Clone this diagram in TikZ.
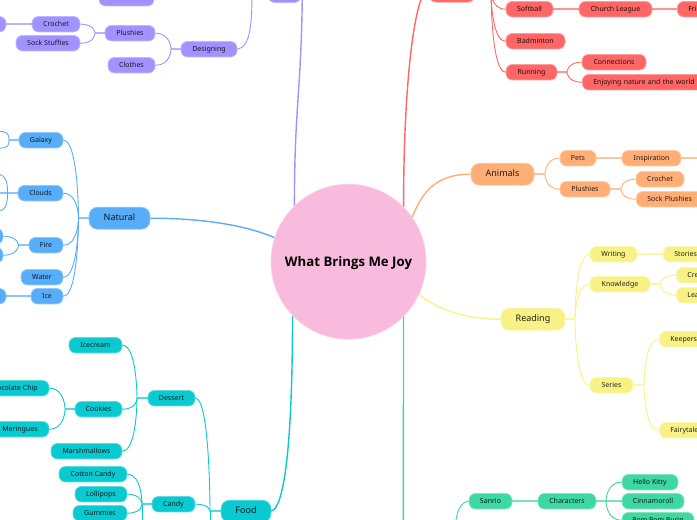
\documentclass[tikz,border=0pt]{standalone}
\usepackage{fontspec}
\setmainfont{Noto Sans}
\newfontfamily\rootfont{Open Sans}
\definecolor{cpink}{HTML}{F9BBDD}
\definecolor{cpur}{HTML}{A092FF}
\definecolor{cblu}{HTML}{58ADF8}
\definecolor{ctea}{HTML}{0BC9D0}
\definecolor{cred}{HTML}{FF6666}
\definecolor{cora}{HTML}{FFAE75}
\definecolor{cyel}{HTML}{F8F286}
\definecolor{cgre}{HTML}{3FD8A2}
\tikzset{
  pillbase/.style={rounded corners=6.5pt,inner sep=0pt,minimum height=15.5pt,line width=.7pt,font=\fontsize{7}{8}\selectfont,text height=5.2pt,text depth=1.5pt},
  bigpill/.style={rounded corners=8.5pt,minimum height=22pt,font=\fontsize{9}{10}\selectfont,text height=6.8pt,text depth=2pt},
  pur/.style={pillbase,fill=cpur,draw=cpur!65!white,text=cpur!15!black},
  blu/.style={pillbase,fill=cblu,draw=cblu!65!white,text=cblu!15!black},
  tea/.style={pillbase,fill=ctea,draw=ctea!65!white,text=ctea!15!black},
  red/.style={pillbase,fill=cred,draw=cred!65!white,text=cred!15!black},
  ora/.style={pillbase,fill=cora,draw=cora!65!white,text=cora!15!black},
  yel/.style={pillbase,fill=cyel,draw=cyel!65!white,text=cyel!15!black},
  gre/.style={pillbase,fill=cgre,draw=cgre!65!white,text=cgre!15!black},
  lnk/.style={line width=.9pt},
  stub/.style={line width=1.7pt,draw opacity=.7},
  main/.style={line width=1.4pt}
}
% style, name, x0, x1, yc, text
\newcommand\pill[6]{\node[#1,minimum width={#4-#3}] (#2) at ({(#3+#4)/2},#5) {#6};}
% node running off the right edge: style, name, x0, yc, text
\newcommand\pillcut[5]{\node[#1,anchor=west,text width=150pt,align=left,inner xsep=11pt] (#2) at (#3,#4) {#5};}
% child to junction, child on the left / on the right
\newcommand\lnkL[3]{\draw[#1,lnk] (#2.east) .. controls (#3|-#2.east) and (#3) .. (#3);}
\newcommand\lnkR[3]{\draw[#1,lnk] (#2.west) .. controls (#3|-#2.west) and (#3) .. (#3);}
\begin{document}
\begin{tikzpicture}[x=1pt,y=-1pt]
\useasboundingbox (0,0) rectangle (697,520);
\clip (0,0) rectangle (697,520);
\begin{scope}[yshift=-1.2pt]
\node[circle,fill=cpink,draw=cpink!70!white,line width=.7pt,minimum size=155pt,inner sep=0pt,font=\rootfont\fontsize{13.2}{15}\selectfont\bfseries,text height=9pt,text depth=0pt] (root) at (348.5,260.5) {What Brings Me Joy};
% purple
\pill{pur,bigpill}{ptop}{267}{302}{-9.5}{}
\pill{pur}{ptwo}{99}{154}{-3}{}
\pill{pur}{pleft}{-30}{6}{23}{}
\pill{pur}{pcro}{32}{80}{23}{Crochet}
\pill{pur}{psock}{16}{80}{42}{Sock Stuffies}
\pill{pur}{pplu}{105}{155}{32}{Plushies}
\pill{pur}{pclo}{108}{155}{64}{Clothes}
\pill{pur}{pdes}{181}{237}{48}{Designing}
\coordinate (jpplu) at (95,32);
\coordinate (jpdes) at (171,48);
\coordinate (jptop) at (252,-9.5);
\lnkL{cpur}{pcro}{jpplu}
\lnkL{cpur}{psock}{jpplu}
\lnkL{cpur}{pplu}{jpdes}
\lnkL{cpur}{pclo}{jpdes}
\draw[cpur,stub] (pleft) -- (pcro);
\draw[cpur,stub] (jpplu) -- (pplu.west);
\draw[cpur,stub] (jpdes) -- (pdes.west);
\draw[cpur,lnk] (pdes.east) .. controls (250,46) and (252,25) .. (jptop);
\draw[cpur,main] (root.134) .. controls +(0,-100) and +(-1,100) .. (ptop.east);
% blue
\pill{blu}{bgal}{19}{63}{139}{Galaxy}
\pill{blu}{bclo}{18}{63}{192}{Clouds}
\pill{blu}{bfir}{29}{63}{244}{Fire}
\pill{blu}{bwat}{21}{63}{276}{Water}
\pill{blu}{bice}{31}{63}{295}{Ice}
\pill{blu,bigpill}{bnat}{89}{150}{217}{Natural}
\pill{blu}{bf1}{-30}{3}{235}{}
\pill{blu}{bf2}{-30}{3}{254}{}
\pill{blu}{bi1}{-30}{6}{295}{}
\coordinate (jbnat) at (78.5,217);
\coordinate (jbgal) at (9,139);
\coordinate (jbclo) at (7.5,192);
\coordinate (jbfir) at (18.5,244);
\coordinate (g1) at (-3,130);
\coordinate (g2) at (-3,147);
\coordinate (c1) at (-3,173);
\coordinate (c2) at (-3,192);
\coordinate (c3) at (-3,210);
\draw[cblu,lnk] (g1) .. controls (9,130) and (9,134) .. (jbgal);
\draw[cblu,lnk] (g2) .. controls (9,147) and (9,144) .. (jbgal);
\draw[cblu,lnk] (c1) .. controls (7.5,173) and (7.5,185) .. (jbclo);
\draw[cblu,lnk] (c3) .. controls (7.5,210) and (7.5,199) .. (jbclo);
\draw[cblu,stub] (c2) -- (bclo.west);
\draw[cblu,stub] (jbgal) -- (bgal.west);
\lnkL{cblu}{bf1}{jbfir}
\lnkL{cblu}{bf2}{jbfir}
\draw[cblu,stub] (jbfir) -- (bfir.west);
\draw[cblu,stub] (bi1) -- (bice);
\lnkL{cblu}{bgal}{jbnat}
\lnkL{cblu}{bclo}{jbnat}
\lnkL{cblu}{bfir}{jbnat}
\lnkL{cblu}{bwat}{jbnat}
\lnkL{cblu}{bice}{jbnat}
\draw[cblu,stub] (jbnat) -- (bnat.west);
\draw[cblu,main] (bnat.east) .. controls +(50,0) and +(-30,-13) .. (root.162);
% food
\pill{tea,bigpill}{tfood}{221}{271}{510}{Food}
\pill{tea}{tdes}{148}{195}{397}{Dessert}
\pill{tea}{tcan}{152}{195}{503}{Candy}
\pill{tea}{tice}{69}{122}{344}{Icecream}
\pill{tea}{tcoo}{75}{122}{408}{Cookies}
\pill{tea}{tmar}{51}{122}{450}{Marshmallows}
\pill{tea}{tcho}{-23}{49}{387}{Chocolate Chip}
\pill{tea}{tmer}{-9}{49}{428}{Meringues}
\pill{tea}{tcot}{59}{127}{473}{Cotton Candy}
\pill{tea}{tlol}{75}{127}{493}{Lollipops}
\pill{tea}{tgum}{73}{127}{512}{Gummies}
\coordinate (jtdes) at (137,397);
\coordinate (jtcoo) at (65,408);
\coordinate (jtcan) at (142,503);
\coordinate (jtfood) at (210,510);
\coordinate (tbelow) at (210,530);
\coordinate (tcbelow) at (142,530);
\lnkL{ctea}{tice}{jtdes}
\lnkL{ctea}{tcoo}{jtdes}
\lnkL{ctea}{tmar}{jtdes}
\lnkL{ctea}{tcho}{jtcoo}
\lnkL{ctea}{tmer}{jtcoo}
\lnkL{ctea}{tcot}{jtcan}
\lnkL{ctea}{tlol}{jtcan}
\lnkL{ctea}{tgum}{jtcan}
\lnkL{ctea}{tdes}{jtfood}
\lnkL{ctea}{tcan}{jtfood}
\draw[ctea,lnk] (jtcan) -- (tcbelow);
\draw[ctea,lnk] (jtfood) -- (tbelow);
\draw[ctea,stub] (jtdes) -- (tdes.west);
\draw[ctea,stub] (jtcoo) -- (tcoo.west);
\draw[ctea,stub] (jtcan) -- (tcan.west);
\draw[ctea,stub] (jtfood) -- (tfood.west);
\draw[ctea,main] (tfood.east) .. controls +(16,-5) and +(0,100) .. (root.224);
% red
\pill{red,bigpill}{rtop}{428}{476}{-10}{}
\pill{red}{rsof}{506}{553}{8}{Softball}
\pill{red}{rchu}{579}{652}{8}{Church League}
\pillcut{red}{rfri}{677}{8}{Fri}
\pill{red}{rbad}{506}{565}{40}{Badminton}
\pill{red}{rrun}{506}{557}{71}{Running}
\pill{red}{rcon}{582}{646}{61}{Connections}
\pillcut{red}{renj}{582}{81}{Enjoying nature and the world}
\coordinate (jrtop) at (491,-10);
\coordinate (jrrun) at (567,71);
\lnkR{cred}{rsof}{jrtop}
\lnkR{cred}{rbad}{jrtop}
\lnkR{cred}{rrun}{jrtop}
\lnkR{cred}{rcon}{jrrun}
\lnkR{cred}{renj}{jrrun}
\draw[cred,stub] (rrun.east) -- (jrrun);
\draw[cred,stub] (rsof) -- (rchu);
\draw[cred,stub] (rchu.east) -- (rfri.west);
\draw[cred,main] (root.45) .. controls +(0,-130) and +(-12,0) .. (rtop.west);
% orange
\pill{ora,bigpill}{oani}{471}{534}{173}{Animals}
\pill{ora}{opet}{560}{596}{157}{Pets}
\pill{ora}{oplu}{560}{610}{188}{Plushies}
\pill{ora}{oins}{622}{681}{157}{Inspiration}
\pill{ora}{ocro}{636}{684}{178}{Crochet}
\pillcut{ora}{osoc}{636}{198}{Sock Plushies}
\coordinate (joani) at (545,173);
\coordinate (joplu) at (621,188);
\coordinate (oright) at (700,157);
\lnkR{cora}{opet}{joani}
\lnkR{cora}{oplu}{joani}
\lnkR{cora}{ocro}{joplu}
\lnkR{cora}{osoc}{joplu}
\draw[cora,stub] (oani.east) -- (joani);
\draw[cora,stub] (oplu.east) -- (joplu);
\draw[cora,stub] (opet) -- (oins);
\draw[cora,stub] (oins.east) -- (oright);
\draw[cora,main] (oani.west) .. controls +(-35,0) and +(10,-25) .. (root.35);
% yellow
\pill{yel,bigpill}{yrea}{501}{565}{318}{Reading}
\pill{yel}{ywri}{590}{637}{253}{Writing}
\pillcut{yel}{ysto}{663}{253}{Stories}
\pill{yel}{ykno}{590}{650}{283}{Knowledge}
\pillcut{yel}{ycre}{676}{274}{Cre}
\pillcut{yel}{ylea}{676}{294}{Lea}
\pill{yel}{yser}{590}{633}{384}{Series}
\pillcut{yel}{ykee}{659}{338}{Keepers}
\pillcut{yel}{yfai}{659}{429}{Fairytale}
\coordinate (jyrea) at (575,318);
\coordinate (jykno) at (660,283);
\coordinate (jyser) at (644,384);
\lnkR{cyel}{ywri}{jyrea}
\lnkR{cyel}{ykno}{jyrea}
\lnkR{cyel}{yser}{jyrea}
\lnkR{cyel}{ycre}{jykno}
\lnkR{cyel}{ylea}{jykno}
\lnkR{cyel}{ykee}{jyser}
\lnkR{cyel}{yfai}{jyser}
\draw[cyel,stub] (yrea.east) -- (jyrea);
\draw[cyel,stub] (ykno.east) -- (jykno);
\draw[cyel,stub] (yser.east) -- (jyser);
\draw[cyel,stub] (ywri) -- (ysto.west);
\draw[cyel,main] (yrea.west) .. controls +(-40,0) and +(15,12) .. (root.-25);
% green
\pill{gre}{gsan}{469}{512}{500}{Sanrio}
\pill{gre}{gcha}{538}{596}{500}{Characters}
\pill{gre}{ghel}{622}{678}{481}{Hello Kitty}
\pill{gre}{gcin}{622}{684}{500}{Cinnamoroll}
\pill{gre}{gpom}{622}{694}{519}{Pom Pom Purin}
\coordinate (jgcha) at (606,500);
\coordinate (jgsan) at (455,530);
\coordinate (gbelow) at (403.3,530);
\lnkR{cgre}{ghel}{jgcha}
\lnkR{cgre}{gpom}{jgcha}
\draw[cgre,stub] (gcha) -- (gcin);
\draw[cgre,stub] (gsan) -- (gcha);
\lnkR{cgre}{gsan}{jgsan}
\draw[cgre,main] (root.-45) -- (gbelow);
\end{scope}
\end{tikzpicture}
\end{document}
